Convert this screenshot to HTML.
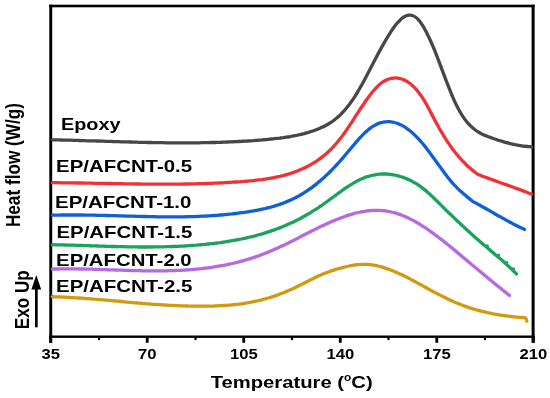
<!DOCTYPE html>
<html><head><meta charset="utf-8"><title>DSC curves</title>
<style>
html,body{margin:0;padding:0;background:#fff;}
body{width:550px;height:398px;overflow:hidden;}
svg{display:block;filter:blur(0.4px);}
text{font-family:"Liberation Sans",Arial,Helvetica,sans-serif;font-weight:700;fill:#000;}
</style></head><body>
<svg width="550" height="398" viewBox="0 0 550 398">
<rect width="550" height="398" fill="#fff"/>
<!-- frame -->
<rect x="49.3" y="4.7" width="2.9" height="338.1" fill="#000"/>
<rect x="531.6" y="4.7" width="3.0" height="338.1" fill="#000"/>
<rect x="49.3" y="4.7" width="485.3" height="2.6" fill="#000"/>
<rect x="49.3" y="335.5" width="485.3" height="2.4" fill="#000"/>
<rect x="49.3" y="336" width="2.8" height="6.8" fill="#000"/>
<rect x="97.9" y="336" width="2.2" height="4.1" fill="#000"/>
<rect x="145.8" y="336" width="2.8" height="6.8" fill="#000"/>
<rect x="194.4" y="336" width="2.2" height="4.1" fill="#000"/>
<rect x="242.3" y="336" width="2.8" height="6.8" fill="#000"/>
<rect x="290.9" y="336" width="2.2" height="4.1" fill="#000"/>
<rect x="338.9" y="336" width="2.8" height="6.8" fill="#000"/>
<rect x="387.4" y="336" width="2.2" height="4.1" fill="#000"/>
<rect x="435.4" y="336" width="2.8" height="6.8" fill="#000"/>
<rect x="483.9" y="336" width="2.2" height="4.1" fill="#000"/>
<rect x="531.9" y="336" width="2.8" height="6.8" fill="#000"/>

<!-- curves -->
<path d="M52.3 296.7 C52.8 296.7 54.3 296.8 55.3 296.8 C56.3 296.8 57.3 296.9 58.3 296.9 C59.3 296.9 60.3 297.0 61.3 297.0 C62.3 297.1 63.3 297.1 64.3 297.2 C65.3 297.2 66.3 297.3 67.3 297.3 C68.3 297.4 69.3 297.4 70.3 297.5 C71.3 297.5 72.3 297.6 73.3 297.6 C74.3 297.7 75.3 297.8 76.3 297.8 C77.3 297.9 78.3 298.0 79.3 298.0 C80.3 298.1 81.3 298.2 82.3 298.2 C83.3 298.3 84.3 298.4 85.3 298.5 C86.3 298.5 87.3 298.6 88.3 298.7 C89.3 298.8 90.3 298.8 91.3 298.9 C92.3 299.0 93.3 299.1 94.3 299.2 C95.3 299.2 96.3 299.3 97.3 299.4 C98.3 299.5 99.3 299.6 100.3 299.7 C101.3 299.7 102.3 299.8 103.3 299.9 C104.3 300.0 105.3 300.1 106.3 300.2 C107.3 300.3 108.3 300.4 109.3 300.4 C110.3 300.5 111.3 300.6 112.3 300.7 C113.3 300.8 114.3 300.9 115.3 301.0 C116.3 301.1 117.3 301.2 118.3 301.2 C119.3 301.3 120.3 301.4 121.3 301.5 C122.3 301.6 123.3 301.7 124.3 301.8 C125.3 301.9 126.3 302.0 127.3 302.1 C128.3 302.1 129.3 302.2 130.3 302.3 C131.3 302.4 132.3 302.5 133.3 302.6 C134.3 302.7 135.3 302.8 136.3 302.8 C137.3 302.9 138.3 303.0 139.3 303.1 C140.3 303.2 141.3 303.3 142.3 303.4 C143.3 303.4 144.3 303.5 145.3 303.6 C146.3 303.7 147.3 303.8 148.3 303.8 C149.3 303.9 150.3 304.0 151.3 304.1 C152.3 304.1 153.3 304.2 154.3 304.3 C155.3 304.4 156.3 304.4 157.3 304.5 C158.3 304.6 159.3 304.6 160.3 304.7 C161.3 304.8 162.3 304.8 163.3 304.9 C164.3 305.0 165.3 305.0 166.3 305.1 C167.3 305.2 168.3 305.2 169.3 305.3 C170.3 305.3 171.3 305.4 172.3 305.4 C173.3 305.5 174.3 305.5 175.3 305.6 C176.3 305.6 177.3 305.7 178.3 305.7 C179.3 305.8 180.3 305.8 181.3 305.8 C182.3 305.9 183.3 305.9 184.3 305.9 C185.3 306.0 186.3 306.0 187.3 306.0 C188.3 306.0 189.3 306.1 190.3 306.1 C191.3 306.1 192.3 306.1 193.3 306.1 C194.3 306.2 195.3 306.2 196.3 306.2 C197.3 306.2 198.3 306.2 199.3 306.2 C200.3 306.2 201.3 306.2 202.3 306.2 C203.3 306.2 204.3 306.2 205.3 306.2 C206.3 306.2 207.3 306.1 208.3 306.1 C209.3 306.1 210.3 306.1 211.3 306.1 C212.3 306.0 213.3 306.0 214.3 306.0 C215.3 305.9 216.3 305.9 217.3 305.8 C218.3 305.8 219.3 305.8 220.3 305.7 C221.3 305.7 222.3 305.6 223.3 305.5 C224.3 305.5 225.3 305.4 226.3 305.3 C227.3 305.3 228.3 305.2 229.3 305.1 C230.3 305.0 231.3 304.9 232.3 304.8 C233.3 304.7 234.3 304.6 235.3 304.5 C236.3 304.4 237.3 304.3 238.3 304.2 C239.3 304.0 240.3 303.9 241.3 303.8 C242.3 303.6 243.3 303.5 244.3 303.3 C245.3 303.2 246.3 303.0 247.3 302.8 C248.3 302.7 249.3 302.5 250.3 302.3 C251.3 302.1 252.3 301.9 253.3 301.7 C254.3 301.5 255.3 301.3 256.3 301.1 C257.3 300.9 258.3 300.6 259.3 300.4 C260.3 300.2 261.3 299.9 262.3 299.7 C263.3 299.4 264.3 299.1 265.3 298.9 C266.3 298.6 267.3 298.3 268.3 298.0 C269.3 297.7 270.3 297.4 271.3 297.1 C272.3 296.8 273.3 296.4 274.3 296.1 C275.3 295.8 276.3 295.4 277.3 295.1 C278.3 294.7 279.3 294.3 280.3 293.9 C281.3 293.6 282.3 293.2 283.3 292.8 C284.3 292.4 285.3 292.0 286.3 291.6 C287.3 291.1 288.3 290.7 289.3 290.3 C290.3 289.8 291.3 289.4 292.3 288.9 C293.3 288.5 294.3 288.0 295.3 287.6 C296.3 287.1 297.3 286.6 298.3 286.1 C299.3 285.6 300.3 285.1 301.3 284.6 C302.3 284.1 303.3 283.6 304.3 283.1 C305.3 282.6 306.3 282.1 307.3 281.5 C308.3 281.0 309.3 280.5 310.3 280.0 C311.3 279.5 312.3 279.0 313.3 278.5 C314.3 278.0 315.3 277.5 316.3 277.0 C317.3 276.5 318.3 276.1 319.3 275.6 C320.3 275.2 321.3 274.7 322.3 274.3 C323.3 273.9 324.3 273.5 325.3 273.1 C326.3 272.7 327.3 272.3 328.3 272.0 C329.3 271.6 330.3 271.3 331.3 270.9 C332.3 270.6 333.3 270.3 334.3 269.9 C335.3 269.6 336.3 269.3 337.3 269.0 C338.3 268.8 339.3 268.5 340.3 268.2 C341.3 267.9 342.3 267.7 343.3 267.4 C344.3 267.1 345.3 266.9 346.3 266.7 C347.3 266.4 348.3 266.2 349.3 266.0 C350.3 265.8 351.3 265.6 352.3 265.4 C353.3 265.2 354.3 265.1 355.3 264.9 C356.3 264.8 357.3 264.7 358.3 264.6 C359.3 264.5 360.3 264.4 361.3 264.4 C362.3 264.3 363.3 264.3 364.3 264.3 C365.3 264.3 366.3 264.4 367.3 264.4 C368.3 264.5 369.3 264.6 370.3 264.7 C371.3 264.8 372.3 265.0 373.3 265.1 C374.3 265.3 375.3 265.5 376.3 265.7 C377.3 265.9 378.3 266.1 379.3 266.4 C380.3 266.6 381.3 266.9 382.3 267.2 C383.3 267.5 384.3 267.8 385.3 268.1 C386.3 268.4 387.3 268.8 388.3 269.1 C389.3 269.5 390.3 269.9 391.3 270.3 C392.3 270.7 393.3 271.1 394.3 271.5 C395.3 271.9 396.3 272.3 397.3 272.8 C398.3 273.2 399.3 273.7 400.3 274.1 C401.3 274.6 402.3 275.1 403.3 275.6 C404.3 276.1 405.3 276.6 406.3 277.1 C407.3 277.6 408.3 278.1 409.3 278.6 C410.3 279.1 411.3 279.7 412.3 280.2 C413.3 280.7 414.3 281.3 415.3 281.8 C416.3 282.3 417.3 282.9 418.3 283.4 C419.3 284.0 420.3 284.5 421.3 285.1 C422.3 285.6 423.3 286.2 424.3 286.7 C425.3 287.3 426.3 287.8 427.3 288.4 C428.3 288.9 429.3 289.5 430.3 290.0 C431.3 290.6 432.3 291.1 433.3 291.6 C434.3 292.2 435.3 292.7 436.3 293.2 C437.3 293.7 438.3 294.2 439.3 294.7 C440.3 295.3 441.3 295.8 442.3 296.3 C443.3 296.8 444.3 297.3 445.3 297.8 C446.3 298.2 447.3 298.7 448.3 299.2 C449.3 299.7 450.3 300.2 451.3 300.6 C452.3 301.1 453.3 301.5 454.3 302.0 C455.3 302.4 456.3 302.8 457.3 303.2 C458.3 303.6 459.3 304.0 460.3 304.4 C461.3 304.8 462.3 305.2 463.3 305.6 C464.3 305.9 465.3 306.3 466.3 306.6 C467.3 307.0 468.3 307.3 469.3 307.6 C470.3 308.0 471.3 308.3 472.3 308.6 C473.3 308.9 474.3 309.2 475.3 309.5 C476.3 309.8 477.3 310.0 478.3 310.3 C479.3 310.6 480.3 310.9 481.3 311.1 C482.3 311.4 483.3 311.6 484.3 311.8 C485.3 312.1 486.3 312.3 487.3 312.5 C488.3 312.7 489.3 313.0 490.3 313.2 C491.3 313.4 492.3 313.6 493.3 313.8 C494.3 313.9 495.3 314.1 496.3 314.3 C497.3 314.5 498.3 314.7 499.3 314.8 C500.3 315.0 501.3 315.1 502.3 315.3 C503.3 315.4 504.3 315.6 505.3 315.7 C506.3 315.9 507.3 316.0 508.3 316.1 C509.3 316.3 510.3 316.4 511.3 316.5 C512.3 316.6 513.3 316.7 514.3 316.8 C515.3 317.0 516.3 317.1 517.3 317.2 C518.3 317.3 519.3 317.4 520.3 317.4 C521.3 317.5 522.4 317.6 523.3 317.7 C524.2 317.8 524.9 317.3 525.5 317.9 C526.1 318.5 526.7 320.6 526.9 321.2" fill="none" stroke="#d29a0e" stroke-width="3.3" stroke-linecap="round" stroke-linejoin="round"/>
<path d="M52.3 269.1 C52.8 269.1 54.3 269.1 55.3 269.0 C56.3 269.0 57.3 269.0 58.3 269.0 C59.3 269.0 60.3 268.9 61.3 268.9 C62.3 268.9 63.3 268.9 64.3 268.9 C65.3 268.9 66.3 268.9 67.3 268.9 C68.3 268.9 69.3 268.9 70.3 268.9 C71.3 268.9 72.3 268.9 73.3 268.9 C74.3 268.9 75.3 268.9 76.3 268.9 C77.3 269.0 78.3 269.0 79.3 269.0 C80.3 269.0 81.3 269.0 82.3 269.0 C83.3 269.1 84.3 269.1 85.3 269.1 C86.3 269.1 87.3 269.1 88.3 269.2 C89.3 269.2 90.3 269.2 91.3 269.2 C92.3 269.3 93.3 269.3 94.3 269.3 C95.3 269.4 96.3 269.4 97.3 269.4 C98.3 269.4 99.3 269.5 100.3 269.5 C101.3 269.5 102.3 269.6 103.3 269.6 C104.3 269.6 105.3 269.7 106.3 269.7 C107.3 269.7 108.3 269.8 109.3 269.8 C110.3 269.8 111.3 269.9 112.3 269.9 C113.3 270.0 114.3 270.0 115.3 270.0 C116.3 270.1 117.3 270.1 118.3 270.1 C119.3 270.2 120.3 270.2 121.3 270.2 C122.3 270.3 123.3 270.3 124.3 270.3 C125.3 270.4 126.3 270.4 127.3 270.4 C128.3 270.4 129.3 270.5 130.3 270.5 C131.3 270.5 132.3 270.6 133.3 270.6 C134.3 270.6 135.3 270.6 136.3 270.7 C137.3 270.7 138.3 270.7 139.3 270.7 C140.3 270.7 141.3 270.8 142.3 270.8 C143.3 270.8 144.3 270.8 145.3 270.8 C146.3 270.8 147.3 270.9 148.3 270.9 C149.3 270.9 150.3 270.9 151.3 270.9 C152.3 270.9 153.3 270.9 154.3 270.9 C155.3 270.9 156.3 270.9 157.3 270.9 C158.3 270.9 159.3 270.9 160.3 270.9 C161.3 270.9 162.3 270.9 163.3 270.9 C164.3 270.8 165.3 270.8 166.3 270.8 C167.3 270.8 168.3 270.8 169.3 270.7 C170.3 270.7 171.3 270.7 172.3 270.7 C173.3 270.6 174.3 270.6 175.3 270.5 C176.3 270.5 177.3 270.5 178.3 270.4 C179.3 270.4 180.3 270.3 181.3 270.3 C182.3 270.2 183.3 270.2 184.3 270.1 C185.3 270.0 186.3 270.0 187.3 269.9 C188.3 269.8 189.3 269.8 190.3 269.7 C191.3 269.6 192.3 269.5 193.3 269.4 C194.3 269.4 195.3 269.3 196.3 269.2 C197.3 269.1 198.3 269.0 199.3 268.9 C200.3 268.8 201.3 268.7 202.3 268.5 C203.3 268.4 204.3 268.3 205.3 268.2 C206.3 268.1 207.3 267.9 208.3 267.8 C209.3 267.7 210.3 267.5 211.3 267.4 C212.3 267.2 213.3 267.1 214.3 266.9 C215.3 266.8 216.3 266.6 217.3 266.4 C218.3 266.3 219.3 266.1 220.3 265.9 C221.3 265.7 222.3 265.5 223.3 265.4 C224.3 265.2 225.3 265.0 226.3 264.8 C227.3 264.6 228.3 264.3 229.3 264.1 C230.3 263.9 231.3 263.7 232.3 263.5 C233.3 263.2 234.3 263.0 235.3 262.8 C236.3 262.5 237.3 262.3 238.3 262.0 C239.3 261.7 240.3 261.5 241.3 261.2 C242.3 260.9 243.3 260.7 244.3 260.4 C245.3 260.1 246.3 259.8 247.3 259.5 C248.3 259.2 249.3 258.9 250.3 258.6 C251.3 258.3 252.3 258.0 253.3 257.6 C254.3 257.3 255.3 257.0 256.3 256.6 C257.3 256.3 258.3 255.9 259.3 255.6 C260.3 255.2 261.3 254.8 262.3 254.4 C263.3 254.1 264.3 253.7 265.3 253.3 C266.3 252.9 267.3 252.5 268.3 252.1 C269.3 251.7 270.3 251.3 271.3 250.8 C272.3 250.4 273.3 250.0 274.3 249.5 C275.3 249.1 276.3 248.6 277.3 248.2 C278.3 247.7 279.3 247.2 280.3 246.8 C281.3 246.3 282.3 245.8 283.3 245.4 C284.3 244.9 285.3 244.4 286.3 243.9 C287.3 243.4 288.3 242.9 289.3 242.4 C290.3 241.9 291.3 241.4 292.3 240.9 C293.3 240.4 294.3 239.9 295.3 239.4 C296.3 238.9 297.3 238.4 298.3 237.9 C299.3 237.4 300.3 236.8 301.3 236.3 C302.3 235.8 303.3 235.3 304.3 234.8 C305.3 234.3 306.3 233.8 307.3 233.3 C308.3 232.8 309.3 232.2 310.3 231.7 C311.3 231.2 312.3 230.7 313.3 230.2 C314.3 229.7 315.3 229.2 316.3 228.7 C317.3 228.2 318.3 227.8 319.3 227.3 C320.3 226.8 321.3 226.3 322.3 225.8 C323.3 225.4 324.3 224.9 325.3 224.4 C326.3 224.0 327.3 223.5 328.3 223.1 C329.3 222.6 330.3 222.2 331.3 221.7 C332.3 221.3 333.3 220.9 334.3 220.5 C335.3 220.0 336.3 219.6 337.3 219.2 C338.3 218.8 339.3 218.4 340.3 218.1 C341.3 217.7 342.3 217.3 343.3 217.0 C344.3 216.6 345.3 216.2 346.3 215.9 C347.3 215.6 348.3 215.3 349.3 214.9 C350.3 214.6 351.3 214.3 352.3 214.1 C353.3 213.8 354.3 213.5 355.3 213.2 C356.3 213.0 357.3 212.8 358.3 212.5 C359.3 212.3 360.3 212.1 361.3 211.9 C362.3 211.7 363.3 211.5 364.3 211.4 C365.3 211.2 366.3 211.1 367.3 210.9 C368.3 210.8 369.3 210.7 370.3 210.6 C371.3 210.5 372.3 210.5 373.3 210.4 C374.3 210.4 375.3 210.4 376.3 210.3 C377.3 210.3 378.3 210.4 379.3 210.4 C380.3 210.4 381.3 210.5 382.3 210.6 C383.3 210.7 384.3 210.8 385.3 210.9 C386.3 211.0 387.3 211.2 388.3 211.3 C389.3 211.5 390.3 211.7 391.3 212.0 C392.3 212.2 393.3 212.4 394.3 212.7 C395.3 213.0 396.3 213.3 397.3 213.6 C398.3 213.9 399.3 214.3 400.3 214.6 C401.3 215.0 402.3 215.4 403.3 215.8 C404.3 216.2 405.3 216.7 406.3 217.1 C407.3 217.6 408.3 218.0 409.3 218.5 C410.3 219.0 411.3 219.5 412.3 220.1 C413.3 220.6 414.3 221.1 415.3 221.7 C416.3 222.3 417.3 222.8 418.3 223.4 C419.3 224.0 420.3 224.6 421.3 225.3 C422.3 225.9 423.3 226.5 424.3 227.2 C425.3 227.8 426.3 228.5 427.3 229.2 C428.3 229.9 429.3 230.6 430.3 231.3 C431.3 232.0 432.3 232.7 433.3 233.4 C434.3 234.1 435.3 234.9 436.3 235.6 C437.3 236.4 438.3 237.1 439.3 237.9 C440.3 238.6 441.3 239.4 442.3 240.2 C443.3 241.0 444.3 241.8 445.3 242.6 C446.3 243.4 447.3 244.2 448.3 245.0 C449.3 245.8 450.3 246.6 451.3 247.4 C452.3 248.2 453.3 249.1 454.3 249.9 C455.3 250.7 456.3 251.5 457.3 252.4 C458.3 253.2 459.3 254.0 460.3 254.9 C461.3 255.7 462.3 256.6 463.3 257.4 C464.3 258.3 465.3 259.1 466.3 259.9 C467.3 260.8 468.3 261.6 469.3 262.5 C470.3 263.3 471.3 264.2 472.3 265.0 C473.3 265.8 474.3 266.7 475.3 267.5 C476.3 268.4 477.3 269.2 478.3 270.0 C479.3 270.9 480.3 271.7 481.3 272.5 C482.3 273.4 483.3 274.2 484.3 275.0 C485.3 275.9 486.3 276.7 487.3 277.5 C488.3 278.3 489.3 279.2 490.3 280.0 C491.3 280.8 492.3 281.6 493.3 282.4 C494.3 283.3 495.3 284.1 496.3 284.9 C497.3 285.7 498.3 286.5 499.3 287.3 C500.3 288.1 501.3 288.9 502.3 289.7 C503.3 290.5 504.3 291.3 505.3 292.1 C506.3 292.9 507.6 294.0 508.3 294.5 C509.0 295.1 509.2 295.2 509.4 295.4" fill="none" stroke="#b66ae2" stroke-width="3.3" stroke-linecap="round" stroke-linejoin="round"/>
<path d="M52.3 244.7 C52.8 244.7 54.3 244.7 55.3 244.8 C56.3 244.8 57.3 244.8 58.3 244.8 C59.3 244.9 60.3 244.9 61.3 244.9 C62.3 244.9 63.3 245.0 64.3 245.0 C65.3 245.0 66.3 245.0 67.3 245.1 C68.3 245.1 69.3 245.1 70.3 245.1 C71.3 245.2 72.3 245.2 73.3 245.2 C74.3 245.3 75.3 245.3 76.3 245.3 C77.3 245.4 78.3 245.4 79.3 245.4 C80.3 245.5 81.3 245.5 82.3 245.5 C83.3 245.5 84.3 245.6 85.3 245.6 C86.3 245.6 87.3 245.7 88.3 245.7 C89.3 245.7 90.3 245.8 91.3 245.8 C92.3 245.8 93.3 245.9 94.3 245.9 C95.3 245.9 96.3 246.0 97.3 246.0 C98.3 246.0 99.3 246.1 100.3 246.1 C101.3 246.1 102.3 246.2 103.3 246.2 C104.3 246.2 105.3 246.3 106.3 246.3 C107.3 246.3 108.3 246.3 109.3 246.4 C110.3 246.4 111.3 246.4 112.3 246.5 C113.3 246.5 114.3 246.5 115.3 246.5 C116.3 246.6 117.3 246.6 118.3 246.6 C119.3 246.6 120.3 246.7 121.3 246.7 C122.3 246.7 123.3 246.7 124.3 246.7 C125.3 246.8 126.3 246.8 127.3 246.8 C128.3 246.8 129.3 246.8 130.3 246.8 C131.3 246.9 132.3 246.9 133.3 246.9 C134.3 246.9 135.3 246.9 136.3 246.9 C137.3 246.9 138.3 246.9 139.3 247.0 C140.3 247.0 141.3 247.0 142.3 247.0 C143.3 247.0 144.3 247.0 145.3 247.0 C146.3 247.0 147.3 247.0 148.3 247.0 C149.3 247.0 150.3 247.0 151.3 247.0 C152.3 247.0 153.3 247.0 154.3 246.9 C155.3 246.9 156.3 246.9 157.3 246.9 C158.3 246.9 159.3 246.9 160.3 246.9 C161.3 246.8 162.3 246.8 163.3 246.8 C164.3 246.8 165.3 246.8 166.3 246.7 C167.3 246.7 168.3 246.7 169.3 246.6 C170.3 246.6 171.3 246.6 172.3 246.5 C173.3 246.5 174.3 246.5 175.3 246.4 C176.3 246.4 177.3 246.3 178.3 246.3 C179.3 246.2 180.3 246.2 181.3 246.1 C182.3 246.1 183.3 246.0 184.3 246.0 C185.3 245.9 186.3 245.9 187.3 245.8 C188.3 245.7 189.3 245.7 190.3 245.6 C191.3 245.5 192.3 245.5 193.3 245.4 C194.3 245.3 195.3 245.2 196.3 245.2 C197.3 245.1 198.3 245.0 199.3 244.9 C200.3 244.8 201.3 244.7 202.3 244.6 C203.3 244.5 204.3 244.4 205.3 244.3 C206.3 244.2 207.3 244.1 208.3 244.0 C209.3 243.9 210.3 243.8 211.3 243.7 C212.3 243.6 213.3 243.5 214.3 243.3 C215.3 243.2 216.3 243.1 217.3 243.0 C218.3 242.8 219.3 242.7 220.3 242.6 C221.3 242.4 222.3 242.3 223.3 242.1 C224.3 242.0 225.3 241.8 226.3 241.7 C227.3 241.5 228.3 241.4 229.3 241.2 C230.3 241.0 231.3 240.9 232.3 240.7 C233.3 240.5 234.3 240.4 235.3 240.2 C236.3 240.0 237.3 239.8 238.3 239.6 C239.3 239.4 240.3 239.2 241.3 239.0 C242.3 238.8 243.3 238.6 244.3 238.4 C245.3 238.2 246.3 237.9 247.3 237.7 C248.3 237.5 249.3 237.3 250.3 237.0 C251.3 236.8 252.3 236.5 253.3 236.3 C254.3 236.0 255.3 235.8 256.3 235.5 C257.3 235.2 258.3 234.9 259.3 234.7 C260.3 234.4 261.3 234.1 262.3 233.8 C263.3 233.5 264.3 233.2 265.3 232.9 C266.3 232.6 267.3 232.2 268.3 231.9 C269.3 231.6 270.3 231.3 271.3 230.9 C272.3 230.6 273.3 230.2 274.3 229.9 C275.3 229.5 276.3 229.1 277.3 228.7 C278.3 228.4 279.3 228.0 280.3 227.6 C281.3 227.2 282.3 226.8 283.3 226.4 C284.3 226.0 285.3 225.5 286.3 225.1 C287.3 224.7 288.3 224.2 289.3 223.8 C290.3 223.3 291.3 222.9 292.3 222.4 C293.3 221.9 294.3 221.4 295.3 220.9 C296.3 220.4 297.3 219.9 298.3 219.4 C299.3 218.9 300.3 218.4 301.3 217.9 C302.3 217.3 303.3 216.8 304.3 216.2 C305.3 215.7 306.3 215.1 307.3 214.5 C308.3 213.9 309.3 213.4 310.3 212.8 C311.3 212.1 312.3 211.5 313.3 210.9 C314.3 210.3 315.3 209.6 316.3 209.0 C317.3 208.4 318.3 207.7 319.3 207.0 C320.3 206.3 321.3 205.7 322.3 205.0 C323.3 204.3 324.3 203.6 325.3 202.8 C326.3 202.1 327.3 201.4 328.3 200.7 C329.3 199.9 330.3 199.2 331.3 198.4 C332.3 197.7 333.3 197.0 334.3 196.2 C335.3 195.5 336.3 194.7 337.3 194.0 C338.3 193.3 339.3 192.5 340.3 191.8 C341.3 191.1 342.3 190.4 343.3 189.7 C344.3 189.0 345.3 188.3 346.3 187.6 C347.3 186.9 348.3 186.3 349.3 185.6 C350.3 185.0 351.3 184.4 352.3 183.8 C353.3 183.2 354.3 182.6 355.3 182.0 C356.3 181.5 357.3 180.9 358.3 180.4 C359.3 179.9 360.3 179.4 361.3 179.0 C362.3 178.5 363.3 178.1 364.3 177.7 C365.3 177.3 366.3 177.0 367.3 176.7 C368.3 176.3 369.3 176.0 370.3 175.8 C371.3 175.5 372.3 175.3 373.3 175.1 C374.3 174.9 375.3 174.7 376.3 174.6 C377.3 174.4 378.3 174.3 379.3 174.2 C380.3 174.1 381.3 174.1 382.3 174.0 C383.3 174.0 384.3 174.0 385.3 174.0 C386.3 174.0 387.3 174.1 388.3 174.2 C389.3 174.3 390.3 174.4 391.3 174.5 C392.3 174.6 393.3 174.8 394.3 175.0 C395.3 175.2 396.3 175.4 397.3 175.6 C398.3 175.9 399.3 176.2 400.3 176.5 C401.3 176.7 402.3 177.1 403.3 177.4 C404.3 177.8 405.3 178.1 406.3 178.6 C407.3 179.0 408.3 179.4 409.3 179.9 C410.3 180.3 411.3 180.8 412.3 181.4 C413.3 181.9 414.3 182.5 415.3 183.1 C416.3 183.7 417.3 184.3 418.3 185.0 C419.3 185.6 420.3 186.3 421.3 187.1 C422.3 187.8 423.3 188.6 424.3 189.4 C425.3 190.2 426.3 191.1 427.3 192.0 C428.3 192.8 429.3 193.8 430.3 194.7 C431.3 195.6 432.3 196.5 433.3 197.5 C434.3 198.5 435.3 199.4 436.3 200.4 C437.3 201.4 438.3 202.4 439.3 203.4 C440.3 204.4 441.3 205.4 442.3 206.4 C443.3 207.4 444.3 208.4 445.3 209.3 C446.3 210.3 447.3 211.3 448.3 212.3 C449.3 213.3 450.3 214.2 451.3 215.2 C452.3 216.2 453.3 217.1 454.3 218.1 C455.3 219.1 456.3 220.0 457.3 221.0 C458.3 221.9 459.3 222.9 460.3 223.8 C461.3 224.7 462.3 225.7 463.3 226.6 C464.3 227.5 465.3 228.5 466.3 229.4 C467.3 230.3 468.3 231.2 469.3 232.1 C470.3 233.0 471.3 233.9 472.3 234.8 C473.3 235.7 474.3 236.6 475.3 237.5 C476.3 238.4 477.3 239.3 478.3 240.1 C479.3 241.0 480.3 241.9 481.3 242.7 C482.3 243.6 483.3 244.5 484.3 245.3 C485.3 246.1 486.3 247.0 487.3 247.8 C488.3 248.7 489.3 249.5 490.3 250.4 C491.3 251.2 492.3 252.0 493.3 252.9 C494.3 253.7 495.3 254.6 496.3 255.4 C497.3 256.3 498.3 257.1 499.3 258.0 C500.3 258.8 501.3 259.7 502.3 260.6 C503.3 261.5 504.3 262.4 505.3 263.3 C506.3 264.2 507.3 265.1 508.3 266.0 C509.3 266.9 510.3 267.8 511.3 268.8 C512.3 269.7 513.4 270.9 514.3 271.7 C515.2 272.6 516.1 273.5 516.5 273.9" fill="none" stroke="#1ba35a" stroke-width="3.3" stroke-linecap="round" stroke-linejoin="round"/>
<path d="M52.3 215.2 C52.8 215.2 54.3 215.2 55.3 215.1 C56.3 215.1 57.3 215.1 58.3 215.1 C59.3 215.1 60.3 215.0 61.3 215.0 C62.3 215.0 63.3 215.0 64.3 215.0 C65.3 215.0 66.3 215.0 67.3 215.0 C68.3 215.0 69.3 215.0 70.3 215.0 C71.3 215.0 72.3 215.0 73.3 215.0 C74.3 215.0 75.3 215.0 76.3 215.0 C77.3 215.0 78.3 215.0 79.3 215.0 C80.3 215.0 81.3 215.0 82.3 215.0 C83.3 215.0 84.3 215.0 85.3 215.1 C86.3 215.1 87.3 215.1 88.3 215.1 C89.3 215.1 90.3 215.1 91.3 215.2 C92.3 215.2 93.3 215.2 94.3 215.2 C95.3 215.2 96.3 215.3 97.3 215.3 C98.3 215.3 99.3 215.3 100.3 215.3 C101.3 215.4 102.3 215.4 103.3 215.4 C104.3 215.4 105.3 215.5 106.3 215.5 C107.3 215.5 108.3 215.5 109.3 215.6 C110.3 215.6 111.3 215.6 112.3 215.7 C113.3 215.7 114.3 215.7 115.3 215.7 C116.3 215.8 117.3 215.8 118.3 215.8 C119.3 215.9 120.3 215.9 121.3 215.9 C122.3 215.9 123.3 216.0 124.3 216.0 C125.3 216.0 126.3 216.1 127.3 216.1 C128.3 216.1 129.3 216.1 130.3 216.2 C131.3 216.2 132.3 216.2 133.3 216.2 C134.3 216.3 135.3 216.3 136.3 216.3 C137.3 216.4 138.3 216.4 139.3 216.4 C140.3 216.4 141.3 216.5 142.3 216.5 C143.3 216.5 144.3 216.5 145.3 216.5 C146.3 216.6 147.3 216.6 148.3 216.6 C149.3 216.6 150.3 216.7 151.3 216.7 C152.3 216.7 153.3 216.7 154.3 216.7 C155.3 216.7 156.3 216.8 157.3 216.8 C158.3 216.8 159.3 216.8 160.3 216.8 C161.3 216.8 162.3 216.8 163.3 216.8 C164.3 216.8 165.3 216.9 166.3 216.9 C167.3 216.9 168.3 216.9 169.3 216.9 C170.3 216.9 171.3 216.9 172.3 216.9 C173.3 216.9 174.3 216.9 175.3 216.9 C176.3 216.9 177.3 216.9 178.3 216.8 C179.3 216.8 180.3 216.8 181.3 216.8 C182.3 216.8 183.3 216.8 184.3 216.8 C185.3 216.8 186.3 216.7 187.3 216.7 C188.3 216.7 189.3 216.7 190.3 216.6 C191.3 216.6 192.3 216.6 193.3 216.6 C194.3 216.5 195.3 216.5 196.3 216.5 C197.3 216.4 198.3 216.4 199.3 216.3 C200.3 216.3 201.3 216.3 202.3 216.2 C203.3 216.2 204.3 216.1 205.3 216.1 C206.3 216.0 207.3 216.0 208.3 215.9 C209.3 215.8 210.3 215.8 211.3 215.7 C212.3 215.6 213.3 215.6 214.3 215.5 C215.3 215.4 216.3 215.4 217.3 215.3 C218.3 215.2 219.3 215.1 220.3 215.0 C221.3 215.0 222.3 214.9 223.3 214.8 C224.3 214.7 225.3 214.6 226.3 214.5 C227.3 214.4 228.3 214.3 229.3 214.2 C230.3 214.1 231.3 214.0 232.3 213.9 C233.3 213.7 234.3 213.6 235.3 213.5 C236.3 213.4 237.3 213.3 238.3 213.1 C239.3 213.0 240.3 212.9 241.3 212.7 C242.3 212.6 243.3 212.5 244.3 212.3 C245.3 212.2 246.3 212.0 247.3 211.9 C248.3 211.7 249.3 211.5 250.3 211.4 C251.3 211.2 252.3 211.0 253.3 210.9 C254.3 210.7 255.3 210.5 256.3 210.3 C257.3 210.2 258.3 210.0 259.3 209.8 C260.3 209.6 261.3 209.4 262.3 209.1 C263.3 208.9 264.3 208.7 265.3 208.5 C266.3 208.2 267.3 208.0 268.3 207.7 C269.3 207.5 270.3 207.2 271.3 207.0 C272.3 206.7 273.3 206.4 274.3 206.1 C275.3 205.8 276.3 205.5 277.3 205.2 C278.3 204.9 279.3 204.5 280.3 204.2 C281.3 203.8 282.3 203.5 283.3 203.1 C284.3 202.7 285.3 202.3 286.3 201.9 C287.3 201.5 288.3 201.1 289.3 200.6 C290.3 200.2 291.3 199.7 292.3 199.3 C293.3 198.8 294.3 198.3 295.3 197.8 C296.3 197.3 297.3 196.7 298.3 196.2 C299.3 195.6 300.3 195.1 301.3 194.5 C302.3 193.9 303.3 193.3 304.3 192.7 C305.3 192.0 306.3 191.4 307.3 190.7 C308.3 190.0 309.3 189.3 310.3 188.6 C311.3 187.9 312.3 187.2 313.3 186.4 C314.3 185.7 315.3 184.9 316.3 184.1 C317.3 183.3 318.3 182.5 319.3 181.6 C320.3 180.8 321.3 179.9 322.3 179.0 C323.3 178.1 324.3 177.2 325.3 176.3 C326.3 175.4 327.3 174.4 328.3 173.5 C329.3 172.5 330.3 171.5 331.3 170.5 C332.3 169.5 333.3 168.5 334.3 167.4 C335.3 166.4 336.3 165.3 337.3 164.2 C338.3 163.1 339.3 162.0 340.3 160.8 C341.3 159.7 342.3 158.5 343.3 157.4 C344.3 156.2 345.3 155.0 346.3 153.8 C347.3 152.6 348.3 151.4 349.3 150.2 C350.3 149.0 351.3 147.8 352.3 146.6 C353.3 145.4 354.3 144.2 355.3 143.1 C356.3 141.9 357.3 140.7 358.3 139.6 C359.3 138.5 360.3 137.4 361.3 136.4 C362.3 135.3 363.3 134.3 364.3 133.3 C365.3 132.4 366.3 131.4 367.3 130.6 C368.3 129.7 369.3 128.9 370.3 128.1 C371.3 127.4 372.3 126.7 373.3 126.1 C374.3 125.4 375.3 124.9 376.3 124.4 C377.3 123.9 378.3 123.5 379.3 123.1 C380.3 122.8 381.3 122.5 382.3 122.3 C383.3 122.0 384.3 121.9 385.3 121.8 C386.3 121.7 387.3 121.6 388.3 121.6 C389.3 121.7 390.3 121.7 391.3 121.9 C392.3 122.0 393.3 122.2 394.3 122.5 C395.3 122.7 396.3 123.0 397.3 123.4 C398.3 123.7 399.3 124.2 400.3 124.6 C401.3 125.1 402.3 125.6 403.3 126.2 C404.3 126.8 405.3 127.4 406.3 128.1 C407.3 128.8 408.3 129.5 409.3 130.3 C410.3 131.1 411.3 131.9 412.3 132.8 C413.3 133.7 414.3 134.6 415.3 135.6 C416.3 136.6 417.3 137.6 418.3 138.6 C419.3 139.7 420.3 140.8 421.3 142.0 C422.3 143.1 423.3 144.3 424.3 145.6 C425.3 146.8 426.3 148.1 427.3 149.4 C428.3 150.7 429.3 152.0 430.3 153.4 C431.3 154.7 432.3 156.1 433.3 157.5 C434.3 158.9 435.3 160.3 436.3 161.7 C437.3 163.1 438.3 164.5 439.3 165.8 C440.3 167.2 441.3 168.6 442.3 170.0 C443.3 171.3 444.3 172.7 445.3 174.0 C446.3 175.3 447.3 176.6 448.3 177.9 C449.3 179.2 450.3 180.4 451.3 181.6 C452.3 182.8 453.3 183.9 454.3 185.0 C455.3 186.1 456.3 187.1 457.3 188.1 C458.3 189.1 459.3 190.0 460.3 190.9 C461.3 191.8 462.3 192.7 463.3 193.6 C464.3 194.4 465.3 195.3 466.3 196.1 C467.3 196.9 468.3 197.7 469.3 198.6 C470.3 199.4 471.7 200.6 472.3 201.1 C472.9 201.6 472.2 201.2 472.8 201.5 C473.4 201.8 474.8 202.6 475.8 203.1 C476.8 203.6 477.8 204.2 478.8 204.7 C479.8 205.3 480.8 205.8 481.8 206.4 C482.8 206.9 483.8 207.5 484.8 208.0 C485.8 208.6 486.8 209.2 487.8 209.7 C488.8 210.3 489.8 210.9 490.8 211.4 C491.8 212.0 492.8 212.6 493.8 213.2 C494.8 213.7 495.8 214.3 496.8 214.9 C497.8 215.4 498.8 216.0 499.8 216.6 C500.8 217.1 501.8 217.7 502.8 218.2 C503.8 218.8 504.8 219.4 505.8 219.9 C506.8 220.5 507.8 221.0 508.8 221.5 C509.8 222.1 510.8 222.6 511.8 223.1 C512.8 223.7 513.8 224.2 514.8 224.7 C515.8 225.2 516.8 225.7 517.8 226.2 C518.8 226.7 519.8 227.2 520.8 227.7 C521.8 228.2 523.2 228.8 523.8 229.1 C524.4 229.4 524.4 229.3 524.5 229.4" fill="none" stroke="#0f5fd6" stroke-width="3.3" stroke-linecap="round" stroke-linejoin="round"/>
<path d="M52.3 182.7 C52.8 182.7 54.3 182.7 55.3 182.7 C56.3 182.7 57.3 182.7 58.3 182.7 C59.3 182.7 60.3 182.8 61.3 182.8 C62.3 182.8 63.3 182.8 64.3 182.8 C65.3 182.8 66.3 182.8 67.3 182.8 C68.3 182.8 69.3 182.9 70.3 182.9 C71.3 182.9 72.3 182.9 73.3 182.9 C74.3 182.9 75.3 182.9 76.3 183.0 C77.3 183.0 78.3 183.0 79.3 183.0 C80.3 183.0 81.3 183.0 82.3 183.0 C83.3 183.1 84.3 183.1 85.3 183.1 C86.3 183.1 87.3 183.1 88.3 183.1 C89.3 183.2 90.3 183.2 91.3 183.2 C92.3 183.2 93.3 183.2 94.3 183.3 C95.3 183.3 96.3 183.3 97.3 183.3 C98.3 183.3 99.3 183.3 100.3 183.4 C101.3 183.4 102.3 183.4 103.3 183.4 C104.3 183.4 105.3 183.5 106.3 183.5 C107.3 183.5 108.3 183.5 109.3 183.5 C110.3 183.6 111.3 183.6 112.3 183.6 C113.3 183.6 114.3 183.6 115.3 183.6 C116.3 183.7 117.3 183.7 118.3 183.7 C119.3 183.7 120.3 183.7 121.3 183.7 C122.3 183.8 123.3 183.8 124.3 183.8 C125.3 183.8 126.3 183.8 127.3 183.8 C128.3 183.9 129.3 183.9 130.3 183.9 C131.3 183.9 132.3 183.9 133.3 183.9 C134.3 184.0 135.3 184.0 136.3 184.0 C137.3 184.0 138.3 184.0 139.3 184.0 C140.3 184.0 141.3 184.0 142.3 184.1 C143.3 184.1 144.3 184.1 145.3 184.1 C146.3 184.1 147.3 184.1 148.3 184.1 C149.3 184.1 150.3 184.1 151.3 184.1 C152.3 184.1 153.3 184.1 154.3 184.2 C155.3 184.2 156.3 184.2 157.3 184.2 C158.3 184.2 159.3 184.2 160.3 184.2 C161.3 184.2 162.3 184.2 163.3 184.2 C164.3 184.2 165.3 184.2 166.3 184.2 C167.3 184.2 168.3 184.2 169.3 184.2 C170.3 184.2 171.3 184.2 172.3 184.2 C173.3 184.2 174.3 184.2 175.3 184.1 C176.3 184.1 177.3 184.1 178.3 184.1 C179.3 184.1 180.3 184.1 181.3 184.1 C182.3 184.1 183.3 184.1 184.3 184.0 C185.3 184.0 186.3 184.0 187.3 184.0 C188.3 184.0 189.3 184.0 190.3 183.9 C191.3 183.9 192.3 183.9 193.3 183.9 C194.3 183.9 195.3 183.8 196.3 183.8 C197.3 183.8 198.3 183.8 199.3 183.7 C200.3 183.7 201.3 183.7 202.3 183.6 C203.3 183.6 204.3 183.6 205.3 183.6 C206.3 183.5 207.3 183.5 208.3 183.4 C209.3 183.4 210.3 183.4 211.3 183.3 C212.3 183.3 213.3 183.3 214.3 183.2 C215.3 183.2 216.3 183.1 217.3 183.1 C218.3 183.0 219.3 183.0 220.3 182.9 C221.3 182.9 222.3 182.8 223.3 182.8 C224.3 182.7 225.3 182.7 226.3 182.6 C227.3 182.5 228.3 182.5 229.3 182.4 C230.3 182.4 231.3 182.3 232.3 182.2 C233.3 182.2 234.3 182.1 235.3 182.0 C236.3 182.0 237.3 181.9 238.3 181.8 C239.3 181.8 240.3 181.7 241.3 181.6 C242.3 181.5 243.3 181.4 244.3 181.4 C245.3 181.3 246.3 181.2 247.3 181.1 C248.3 181.0 249.3 180.9 250.3 180.8 C251.3 180.8 252.3 180.7 253.3 180.6 C254.3 180.5 255.3 180.4 256.3 180.2 C257.3 180.1 258.3 180.0 259.3 179.9 C260.3 179.8 261.3 179.7 262.3 179.5 C263.3 179.4 264.3 179.2 265.3 179.1 C266.3 179.0 267.3 178.8 268.3 178.6 C269.3 178.5 270.3 178.3 271.3 178.1 C272.3 178.0 273.3 177.8 274.3 177.6 C275.3 177.4 276.3 177.2 277.3 176.9 C278.3 176.7 279.3 176.5 280.3 176.3 C281.3 176.0 282.3 175.8 283.3 175.5 C284.3 175.2 285.3 175.0 286.3 174.7 C287.3 174.4 288.3 174.1 289.3 173.8 C290.3 173.5 291.3 173.1 292.3 172.8 C293.3 172.5 294.3 172.1 295.3 171.7 C296.3 171.4 297.3 171.0 298.3 170.6 C299.3 170.2 300.3 169.8 301.3 169.3 C302.3 168.9 303.3 168.5 304.3 168.0 C305.3 167.5 306.3 167.0 307.3 166.5 C308.3 166.0 309.3 165.5 310.3 164.9 C311.3 164.4 312.3 163.8 313.3 163.2 C314.3 162.6 315.3 161.9 316.3 161.3 C317.3 160.6 318.3 159.9 319.3 159.2 C320.3 158.5 321.3 157.7 322.3 156.9 C323.3 156.1 324.3 155.3 325.3 154.5 C326.3 153.6 327.3 152.7 328.3 151.8 C329.3 150.8 330.3 149.9 331.3 148.9 C332.3 147.8 333.3 146.8 334.3 145.7 C335.3 144.6 336.3 143.5 337.3 142.3 C338.3 141.1 339.3 139.9 340.3 138.6 C341.3 137.3 342.3 136.0 343.3 134.6 C344.3 133.3 345.3 131.8 346.3 130.4 C347.3 128.9 348.3 127.4 349.3 125.9 C350.3 124.4 351.3 122.9 352.3 121.4 C353.3 119.8 354.3 118.3 355.3 116.7 C356.3 115.2 357.3 113.6 358.3 112.1 C359.3 110.5 360.3 109.0 361.3 107.5 C362.3 106.0 363.3 104.4 364.3 103.0 C365.3 101.5 366.3 100.1 367.3 98.7 C368.3 97.3 369.3 96.0 370.3 94.7 C371.3 93.4 372.3 92.1 373.3 91.0 C374.3 89.8 375.3 88.7 376.3 87.6 C377.3 86.6 378.3 85.6 379.3 84.8 C380.3 83.9 381.3 83.1 382.3 82.4 C383.3 81.7 384.3 81.1 385.3 80.5 C386.3 80.0 387.3 79.6 388.3 79.2 C389.3 78.8 390.3 78.5 391.3 78.3 C392.3 78.1 393.3 78.0 394.3 78.0 C395.3 77.9 396.3 78.0 397.3 78.1 C398.3 78.2 399.3 78.3 400.3 78.6 C401.3 78.8 402.3 79.2 403.3 79.6 C404.3 80.0 405.3 80.5 406.3 81.0 C407.3 81.6 408.3 82.2 409.3 83.0 C410.3 83.7 411.3 84.5 412.3 85.4 C413.3 86.3 414.3 87.3 415.3 88.4 C416.3 89.4 417.3 90.6 418.3 91.9 C419.3 93.2 420.3 94.5 421.3 96.0 C422.3 97.5 423.3 99.0 424.3 100.7 C425.3 102.4 426.3 104.1 427.3 106.0 C428.3 107.8 429.3 109.7 430.3 111.6 C431.3 113.4 432.3 115.4 433.3 117.3 C434.3 119.2 435.3 121.0 436.3 122.9 C437.3 124.7 438.3 126.5 439.3 128.3 C440.3 130.0 441.3 131.7 442.3 133.4 C443.3 135.1 444.3 136.7 445.3 138.3 C446.3 139.9 447.3 141.4 448.3 142.9 C449.3 144.4 450.3 145.8 451.3 147.2 C452.3 148.6 453.3 149.9 454.3 151.2 C455.3 152.5 456.3 153.8 457.3 155.0 C458.3 156.2 459.3 157.4 460.3 158.5 C461.3 159.6 462.3 160.7 463.3 161.7 C464.3 162.8 465.3 163.8 466.3 164.8 C467.3 165.7 468.3 166.6 469.3 167.5 C470.3 168.4 471.3 169.3 472.3 170.1 C473.3 170.9 474.3 171.7 475.3 172.5 C476.3 173.2 477.2 174.1 478.2 174.6 C479.2 175.1 480.2 175.4 481.2 175.7 C482.2 176.1 483.2 176.5 484.2 176.8 C485.2 177.2 486.2 177.6 487.2 177.9 C488.2 178.3 489.2 178.7 490.2 179.0 C491.2 179.4 492.2 179.7 493.2 180.1 C494.2 180.5 495.2 180.8 496.2 181.2 C497.2 181.5 498.2 181.9 499.2 182.2 C500.2 182.6 501.2 183.0 502.2 183.3 C503.2 183.7 504.2 184.0 505.2 184.4 C506.2 184.7 507.2 185.1 508.2 185.4 C509.2 185.8 510.2 186.1 511.2 186.5 C512.2 186.9 513.2 187.2 514.2 187.6 C515.2 187.9 516.2 188.3 517.2 188.7 C518.2 189.0 519.2 189.4 520.2 189.8 C521.2 190.2 522.2 190.5 523.2 190.9 C524.2 191.3 525.2 191.7 526.2 192.0 C527.2 192.4 528.3 192.9 529.2 193.2 C530.1 193.5 531.1 193.9 531.5 194.1" fill="none" stroke="#f03236" stroke-width="3.3" stroke-linecap="round" stroke-linejoin="round"/>
<path d="M52.3 139.8 C52.8 139.8 54.3 139.8 55.3 139.9 C56.3 139.9 57.3 139.9 58.3 139.9 C59.3 140.0 60.3 140.0 61.3 140.0 C62.3 140.0 63.3 140.1 64.3 140.1 C65.3 140.1 66.3 140.1 67.3 140.2 C68.3 140.2 69.3 140.2 70.3 140.2 C71.3 140.3 72.3 140.3 73.3 140.3 C74.3 140.4 75.3 140.4 76.3 140.4 C77.3 140.4 78.3 140.5 79.3 140.5 C80.3 140.5 81.3 140.6 82.3 140.6 C83.3 140.6 84.3 140.6 85.3 140.7 C86.3 140.7 87.3 140.7 88.3 140.8 C89.3 140.8 90.3 140.8 91.3 140.9 C92.3 140.9 93.3 140.9 94.3 140.9 C95.3 141.0 96.3 141.0 97.3 141.0 C98.3 141.1 99.3 141.1 100.3 141.1 C101.3 141.2 102.3 141.2 103.3 141.2 C104.3 141.3 105.3 141.3 106.3 141.3 C107.3 141.4 108.3 141.4 109.3 141.4 C110.3 141.4 111.3 141.5 112.3 141.5 C113.3 141.5 114.3 141.6 115.3 141.6 C116.3 141.6 117.3 141.7 118.3 141.7 C119.3 141.7 120.3 141.7 121.3 141.8 C122.3 141.8 123.3 141.8 124.3 141.9 C125.3 141.9 126.3 141.9 127.3 141.9 C128.3 142.0 129.3 142.0 130.3 142.0 C131.3 142.1 132.3 142.1 133.3 142.1 C134.3 142.1 135.3 142.2 136.3 142.2 C137.3 142.2 138.3 142.2 139.3 142.3 C140.3 142.3 141.3 142.3 142.3 142.3 C143.3 142.4 144.3 142.4 145.3 142.4 C146.3 142.4 147.3 142.4 148.3 142.5 C149.3 142.5 150.3 142.5 151.3 142.5 C152.3 142.5 153.3 142.6 154.3 142.6 C155.3 142.6 156.3 142.6 157.3 142.6 C158.3 142.6 159.3 142.7 160.3 142.7 C161.3 142.7 162.3 142.7 163.3 142.7 C164.3 142.7 165.3 142.7 166.3 142.8 C167.3 142.8 168.3 142.8 169.3 142.8 C170.3 142.8 171.3 142.8 172.3 142.8 C173.3 142.8 174.3 142.8 175.3 142.8 C176.3 142.8 177.3 142.8 178.3 142.8 C179.3 142.9 180.3 142.9 181.3 142.9 C182.3 142.9 183.3 142.9 184.3 142.9 C185.3 142.9 186.3 142.9 187.3 142.9 C188.3 142.8 189.3 142.8 190.3 142.8 C191.3 142.8 192.3 142.8 193.3 142.8 C194.3 142.8 195.3 142.8 196.3 142.8 C197.3 142.8 198.3 142.8 199.3 142.8 C200.3 142.7 201.3 142.7 202.3 142.7 C203.3 142.7 204.3 142.7 205.3 142.7 C206.3 142.7 207.3 142.6 208.3 142.6 C209.3 142.6 210.3 142.6 211.3 142.5 C212.3 142.5 213.3 142.5 214.3 142.5 C215.3 142.4 216.3 142.4 217.3 142.4 C218.3 142.4 219.3 142.3 220.3 142.3 C221.3 142.3 222.3 142.2 223.3 142.2 C224.3 142.1 225.3 142.1 226.3 142.1 C227.3 142.0 228.3 142.0 229.3 141.9 C230.3 141.9 231.3 141.9 232.3 141.8 C233.3 141.8 234.3 141.7 235.3 141.7 C236.3 141.6 237.3 141.6 238.3 141.5 C239.3 141.5 240.3 141.4 241.3 141.3 C242.3 141.3 243.3 141.2 244.3 141.2 C245.3 141.1 246.3 141.0 247.3 141.0 C248.3 140.9 249.3 140.8 250.3 140.8 C251.3 140.7 252.3 140.6 253.3 140.6 C254.3 140.5 255.3 140.4 256.3 140.3 C257.3 140.3 258.3 140.2 259.3 140.1 C260.3 140.0 261.3 139.9 262.3 139.9 C263.3 139.8 264.3 139.7 265.3 139.6 C266.3 139.5 267.3 139.4 268.3 139.3 C269.3 139.2 270.3 139.1 271.3 139.0 C272.3 138.9 273.3 138.8 274.3 138.7 C275.3 138.6 276.3 138.5 277.3 138.4 C278.3 138.3 279.3 138.2 280.3 138.0 C281.3 137.9 282.3 137.8 283.3 137.7 C284.3 137.5 285.3 137.4 286.3 137.2 C287.3 137.1 288.3 136.9 289.3 136.8 C290.3 136.6 291.3 136.4 292.3 136.2 C293.3 136.1 294.3 135.9 295.3 135.7 C296.3 135.5 297.3 135.3 298.3 135.0 C299.3 134.8 300.3 134.6 301.3 134.3 C302.3 134.1 303.3 133.8 304.3 133.6 C305.3 133.3 306.3 133.0 307.3 132.7 C308.3 132.4 309.3 132.1 310.3 131.8 C311.3 131.5 312.3 131.1 313.3 130.8 C314.3 130.4 315.3 130.1 316.3 129.7 C317.3 129.3 318.3 128.9 319.3 128.5 C320.3 128.0 321.3 127.6 322.3 127.1 C323.3 126.7 324.3 126.2 325.3 125.7 C326.3 125.2 327.3 124.6 328.3 124.0 C329.3 123.4 330.3 122.8 331.3 122.2 C332.3 121.5 333.3 120.8 334.3 120.0 C335.3 119.3 336.3 118.5 337.3 117.6 C338.3 116.7 339.3 115.8 340.3 114.9 C341.3 113.9 342.3 112.8 343.3 111.7 C344.3 110.6 345.3 109.5 346.3 108.3 C347.3 107.1 348.3 105.8 349.3 104.5 C350.3 103.1 351.3 101.7 352.3 100.3 C353.3 98.8 354.3 97.3 355.3 95.8 C356.3 94.2 357.3 92.6 358.3 90.9 C359.3 89.2 360.3 87.4 361.3 85.7 C362.3 83.9 363.3 82.0 364.3 80.2 C365.3 78.3 366.3 76.4 367.3 74.5 C368.3 72.6 369.3 70.7 370.3 68.7 C371.3 66.8 372.3 64.9 373.3 63.0 C374.3 61.0 375.3 59.1 376.3 57.2 C377.3 55.3 378.3 53.4 379.3 51.6 C380.3 49.7 381.3 47.9 382.3 46.1 C383.3 44.3 384.3 42.5 385.3 40.8 C386.3 39.1 387.3 37.4 388.3 35.8 C389.3 34.2 390.3 32.6 391.3 31.1 C392.3 29.6 393.3 28.2 394.3 26.8 C395.3 25.5 396.3 24.2 397.3 23.0 C398.3 21.9 399.3 20.8 400.3 19.9 C401.3 18.9 402.3 18.1 403.3 17.4 C404.3 16.7 405.3 16.2 406.3 15.8 C407.3 15.4 408.3 15.2 409.3 15.1 C410.3 15.0 411.3 15.1 412.3 15.5 C413.3 15.8 414.3 16.3 415.3 17.0 C416.3 17.7 417.3 18.6 418.3 19.7 C419.3 20.8 420.3 22.1 421.3 23.5 C422.3 24.9 423.3 26.5 424.3 28.3 C425.3 30.0 426.3 31.9 427.3 33.9 C428.3 35.9 429.3 38.1 430.3 40.3 C431.3 42.5 432.3 44.8 433.3 47.2 C434.3 49.6 435.3 52.1 436.3 54.6 C437.3 57.2 438.3 59.8 439.3 62.4 C440.3 65.0 441.3 67.7 442.3 70.4 C443.3 73.0 444.3 75.7 445.3 78.3 C446.3 81.0 447.3 83.6 448.3 86.2 C449.3 88.7 450.3 91.2 451.3 93.6 C452.3 96.1 453.3 98.4 454.3 100.6 C455.3 102.8 456.3 104.9 457.3 106.8 C458.3 108.8 459.3 110.6 460.3 112.3 C461.3 114.1 462.3 115.7 463.3 117.1 C464.3 118.6 465.3 120.0 466.3 121.2 C467.3 122.5 468.3 123.6 469.3 124.7 C470.3 125.8 471.3 126.7 472.3 127.6 C473.3 128.5 474.3 129.3 475.3 130.0 C476.3 130.7 477.3 131.4 478.3 132.0 C479.3 132.6 480.3 133.2 481.3 133.7 C482.3 134.2 483.3 134.6 484.3 135.1 C485.3 135.5 486.3 135.9 487.3 136.3 C488.3 136.7 489.3 137.1 490.3 137.4 C491.3 137.8 492.3 138.1 493.3 138.5 C494.3 138.8 495.3 139.2 496.3 139.5 C497.3 139.9 498.3 140.2 499.3 140.5 C500.3 140.8 501.3 141.1 502.3 141.4 C503.3 141.7 504.3 142.0 505.3 142.3 C506.3 142.6 507.3 142.8 508.3 143.1 C509.3 143.4 510.3 143.6 511.3 143.8 C512.3 144.1 513.3 144.3 514.3 144.5 C515.3 144.7 516.3 144.9 517.3 145.1 C518.3 145.3 519.3 145.5 520.3 145.6 C521.3 145.8 522.3 145.9 523.3 146.1 C524.3 146.2 525.3 146.3 526.3 146.4 C527.3 146.5 528.4 146.6 529.3 146.7 C530.2 146.7 531.1 146.8 531.5 146.8" fill="none" stroke="#474747" stroke-width="3.3" stroke-linecap="round" stroke-linejoin="round"/>
<circle cx="487.3" cy="245.8" r="1.6" fill="#1ba35a"/>
<circle cx="498.5" cy="255.2" r="1.6" fill="#1ba35a"/>
<circle cx="506.7" cy="262.5" r="1.6" fill="#1ba35a"/>
<circle cx="513.5" cy="268.8" r="1.6" fill="#1ba35a"/>

<!-- arrow -->
<rect x="35" y="287" width="2.7" height="40.3" fill="#000"/>
<polygon points="36.3,275 41.2,289.6 31.4,289.6" fill="#000"/>
<text transform="translate(60.94 130.40) scale(1.203 1)" font-size="16.5" >Epoxy</text>
<text transform="translate(56.10 172.20) scale(1.201 1)" font-size="17" >EP/AFCNT-0.5</text>
<text transform="translate(55.10 208.00) scale(1.203 1)" font-size="17" >EP/AFCNT-1.0</text>
<text transform="translate(56.50 237.60) scale(1.199 1)" font-size="17" >EP/AFCNT-1.5</text>
<text transform="translate(56.10 266.30) scale(1.196 1)" font-size="17" >EP/AFCNT-2.0</text>
<text transform="translate(56.10 292.30) scale(1.203 1)" font-size="17" >EP/AFCNT-2.5</text>
<text transform="translate(50.8 358.9) scale(1.19 1)" font-size="14" text-anchor="middle">35</text>
<text transform="translate(147.3 358.9) scale(1.19 1)" font-size="14" text-anchor="middle">70</text>
<text transform="translate(243.8 358.9) scale(1.19 1)" font-size="14" text-anchor="middle">105</text>
<text transform="translate(340.4 358.9) scale(1.19 1)" font-size="14" text-anchor="middle">140</text>
<text transform="translate(436.9 358.9) scale(1.19 1)" font-size="14" text-anchor="middle">175</text>
<text transform="translate(533.4 358.9) scale(1.19 1)" font-size="14" text-anchor="middle">210</text>
<text transform="translate(210.7 388.4) scale(1.19 1)" font-size="17">Temperature (<tspan font-size="10" dy="-7.4">o</tspan><tspan dy="7.4">C)</tspan></text>
<text transform="translate(19.6 227.1) scale(1.16 1) rotate(-90)" font-size="17.2">Heat flow (W/g)</text>
<text transform="translate(28.9 329.2) scale(1.16 1) rotate(-90)" font-size="17.1">Exo Up</text>

</svg>
</body></html>
